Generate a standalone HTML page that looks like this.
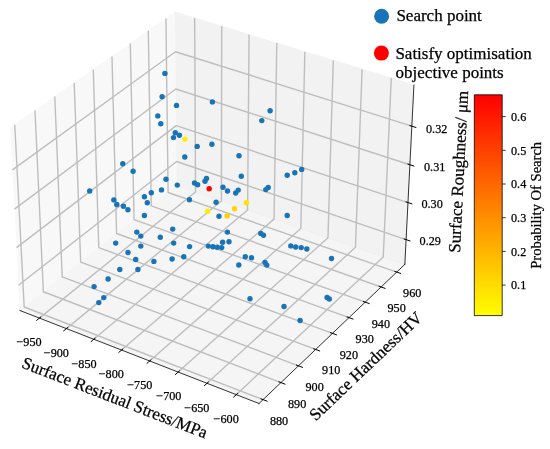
<!DOCTYPE html>
<html><head><meta charset="utf-8"><title>3D scatter</title>
<style>html,body{margin:0;padding:0;background:#fff;overflow:hidden}svg{display:block}text{font-family:'Liberation Serif','Times New Roman',serif;fill:#000;stroke:#000;stroke-width:0.25px}</style>
</head><body>
<svg width="550" height="449" viewBox="0 0 550 449">
<rect width="550" height="449" fill="#fff"/>

 
 <defs>
  <style type="text/css">*{stroke-linejoin: round; stroke-linecap: butt}</style>
 </defs>
 <g id="figure_1">
  <g id="patch_1">
   <path d="M 0 449 
L 550 449 
L 550 0 
L 0 0 
L 0 449 
z
" style="fill: none; opacity: 0"/>
  </g>
  <g id="patch_2">
   <path d="M -1 426.093762 
L 430.484135 426.093762 
L 430.484135 -1 
" style="fill: none; opacity: 0"/>
  </g>
  <g id="pane3d_1">
   <g id="patch_3">
    <path d="M 19.835938 310.484991 
L 176.832569 185.533062 
L 175.092431 12.017066 
L 10.180579 127.894196 
" style="fill: #f2f2f2; opacity: 0.5; stroke: #f2f2f2; stroke-linejoin: miter"/>
   </g>
  </g>
  <g id="pane3d_2">
   <g id="patch_4">
    <path d="M 176.832569 185.533062 
L 404.837782 264.374308 
L 413.937392 85.029403 
L 175.092431 12.017066 
" style="fill: #e6e6e6; opacity: 0.5; stroke: #e6e6e6; stroke-linejoin: miter"/>
   </g>
  </g>
  <g id="pane3d_3">
   <g id="patch_5">
    <path d="M 19.835938 310.484991 
L 259.005629 403.499016 
L 404.837782 264.374308 
L 176.832569 185.533062 
" style="fill: #ececec; opacity: 0.5; stroke: #ececec; stroke-linejoin: miter"/>
   </g>
  </g>
  <g id="grid3d_1">
   <g id="Line3DCollection_1">
    <path d="M 39.385509 318.087895 
L 195.545633 192.003797 
L 194.651916 17.996191 
" style="fill: none; stroke: #bebebe; stroke-width: 1.4"/>
    <path d="M 66.419038 328.60134 
L 221.400034 200.943913 
L 221.688446 26.260967 
" style="fill: none; stroke: #bebebe; stroke-width: 1.4"/>
    <path d="M 93.804802 339.25177 
L 247.564842 209.991365 
L 249.064581 34.629557 
" style="fill: none; stroke: #bebebe; stroke-width: 1.4"/>
    <path d="M 121.549729 350.041881 
L 274.045682 219.148096 
L 276.78676 43.103929 
" style="fill: none; stroke: #bebebe; stroke-width: 1.4"/>
    <path d="M 149.660933 360.974437 
L 300.848315 228.416099 
L 304.861588 51.686103 
" style="fill: none; stroke: #bebebe; stroke-width: 1.4"/>
    <path d="M 178.145714 372.05228 
L 327.978641 237.797414 
L 333.295836 60.378146 
" style="fill: none; stroke: #bebebe; stroke-width: 1.4"/>
    <path d="M 207.01157 383.278324 
L 355.442708 247.294132 
L 362.09645 69.182184 
" style="fill: none; stroke: #bebebe; stroke-width: 1.4"/>
    <path d="M 236.266198 394.655562 
L 383.246711 256.908396 
L 391.270557 78.100395 
" style="fill: none; stroke: #bebebe; stroke-width: 1.4"/>
   </g>
  </g>
  <g id="grid3d_2">
   <g id="Line3DCollection_2">
    <path d="M 14.763161 124.674195 
L 24.182423 307.02567 
L 263.060476 399.630668 
" style="fill: none; stroke: #bebebe; stroke-width: 1.4"/>
    <path d="M 34.974426 110.472526 
L 43.363374 291.759757 
L 280.942522 382.571094 
" style="fill: none; stroke: #bebebe; stroke-width: 1.4"/>
    <path d="M 54.788437 96.549993 
L 62.184713 276.780056 
L 298.470445 365.849356 
" style="fill: none; stroke: #bebebe; stroke-width: 1.4"/>
    <path d="M 74.216792 82.898445 
L 80.656459 262.078593 
L 315.654659 349.455517 
" style="fill: none; stroke: #bebebe; stroke-width: 1.4"/>
    <path d="M 93.270641 69.510048 
L 98.788263 247.647685 
L 332.505178 333.380026 
" style="fill: none; stroke: #bebebe; stroke-width: 1.4"/>
    <path d="M 111.96071 56.377265 
L 116.589423 233.479934 
L 349.031627 317.613699 
" style="fill: none; stroke: #bebebe; stroke-width: 1.4"/>
    <path d="M 130.297319 43.492845 
L 134.068901 219.568205 
L 365.243267 302.147702 
" style="fill: none; stroke: #bebebe; stroke-width: 1.4"/>
    <path d="M 148.290399 30.849809 
L 151.23534 205.905621 
L 381.149007 286.973535 
" style="fill: none; stroke: #bebebe; stroke-width: 1.4"/>
    <path d="M 165.949517 18.441435 
L 168.097074 192.485548 
L 396.757424 272.083016 
" style="fill: none; stroke: #bebebe; stroke-width: 1.4"/>
   </g>
  </g>
  <g id="grid3d_3">
   <g id="Line3DCollection_3">
    <path d="M 406.094434 239.606856 
L 176.591758 161.520868 
L 18.504156 285.299893 
" style="fill: none; stroke: #bebebe; stroke-width: 1.4"/>
    <path d="M 407.974998 202.542681 
L 176.231687 125.616732 
L 16.510193 247.592411 
" style="fill: none; stroke: #bebebe; stroke-width: 1.4"/>
    <path d="M 409.892967 164.741284 
L 175.864822 89.035202 
L 14.475373 209.112286 
" style="fill: none; stroke: #bebebe; stroke-width: 1.4"/>
    <path d="M 411.849468 126.180446 
L 175.490969 51.756925 
L 12.398427 169.835524 
" style="fill: none; stroke: #bebebe; stroke-width: 1.4"/>
   </g>
  </g>
  <g id="axis3d_1">
   <g id="line2d_1">
    <path d="M 19.835938 310.484991 
L 259.005629 403.499016 
" style="fill: none; stroke: #000000; stroke-width: 0.8; stroke-linecap: square"/>
   </g>
   <g id="xtick_1">
    <g id="line2d_2">
     <path d="M 40.739013 316.995072 
L 36.673025 320.277961 
" style="fill: none; stroke: #000000; stroke-linecap: square"/>
    </g>
   </g>
   <g id="xtick_2">
    <g id="line2d_3">
     <path d="M 67.762992 327.494329 
L 63.725659 330.819868 
" style="fill: none; stroke: #000000; stroke-linecap: square"/>
    </g>
   </g>
   <g id="xtick_3">
    <g id="line2d_4">
     <path d="M 95.13884 338.130293 
L 91.131259 341.499319 
" style="fill: none; stroke: #000000; stroke-linecap: square"/>
    </g>
   </g>
   <g id="xtick_4">
    <g id="line2d_5">
     <path d="M 122.873476 348.905652 
L 118.896777 352.319023 
" style="fill: none; stroke: #000000; stroke-linecap: square"/>
    </g>
   </g>
   <g id="xtick_5">
    <g id="line2d_6">
     <path d="M 150.973999 359.823165 
L 147.029349 363.281762 
" style="fill: none; stroke: #000000; stroke-linecap: square"/>
    </g>
   </g>
   <g id="xtick_6">
    <g id="line2d_7">
     <path d="M 179.447698 370.885662 
L 175.536305 374.390391 
" style="fill: none; stroke: #000000; stroke-linecap: square"/>
    </g>
   </g>
   <g id="xtick_7">
    <g id="line2d_8">
     <path d="M 208.302057 382.096052 
L 204.425165 385.647841 
" style="fill: none; stroke: #000000; stroke-linecap: square"/>
    </g>
   </g>
   <g id="xtick_8">
    <g id="line2d_9">
     <path d="M 237.54476 393.45732 
L 233.703658 397.057123 
" style="fill: none; stroke: #000000; stroke-linecap: square"/>
    </g>
   </g>
  </g>
  <g id="axis3d_2">
   <g id="line2d_10">
    <path d="M 404.837782 264.374308 
L 259.005629 403.499016 
" style="fill: none; stroke: #000000; stroke-width: 0.8; stroke-linecap: square"/>
   </g>
   <g id="xtick_9">
    <g id="line2d_11">
     <path d="M 261.040681 398.847661 
L 267.105638 401.198841 
" style="fill: none; stroke: #000000; stroke-linecap: square"/>
    </g>
   </g>
   <g id="xtick_10">
    <g id="line2d_12">
     <path d="M 278.934791 381.803666 
L 284.963468 384.108044 
" style="fill: none; stroke: #000000; stroke-linecap: square"/>
    </g>
   </g>
   <g id="xtick_11">
    <g id="line2d_13">
     <path d="M 296.474697 365.097047 
L 302.467334 367.356007 
" style="fill: none; stroke: #000000; stroke-linecap: square"/>
    </g>
   </g>
   <g id="xtick_12">
    <g id="line2d_14">
     <path d="M 313.670815 348.717885 
L 319.627658 350.932755 
" style="fill: none; stroke: #000000; stroke-linecap: square"/>
    </g>
   </g>
   <g id="xtick_13">
    <g id="line2d_15">
     <path d="M 330.533153 332.656645 
L 336.454456 334.828705 
" style="fill: none; stroke: #000000; stroke-linecap: square"/>
    </g>
   </g>
   <g id="xtick_14">
    <g id="line2d_16">
     <path d="M 347.071335 316.90416 
L 352.957357 319.034639 
" style="fill: none; stroke: #000000; stroke-linecap: square"/>
    </g>
   </g>
   <g id="xtick_15">
    <g id="line2d_17">
     <path d="M 363.294621 301.451612 
L 369.145625 303.541692 
" style="fill: none; stroke: #000000; stroke-linecap: square"/>
    </g>
   </g>
   <g id="xtick_16">
    <g id="line2d_18">
     <path d="M 379.211919 286.290515 
L 385.028172 288.341335 
" style="fill: none; stroke: #000000; stroke-linecap: square"/>
    </g>
   </g>
   <g id="xtick_17">
    <g id="line2d_19">
     <path d="M 394.831804 271.412701 
L 400.613577 273.425356 
" style="fill: none; stroke: #000000; stroke-linecap: square"/>
    </g>
   </g>
  </g>
  <g id="axis3d_3">
   <g id="line2d_20">
    <path d="M 404.837782 264.374308 
L 413.937392 85.029403 
" style="fill: none; stroke: #000000; stroke-width: 0.8; stroke-linecap: square"/>
   </g>
   <g id="xtick_18">
    <g id="line2d_21">
     <path d="M 404.161556 238.949213 
L 409.965131 240.923822 
" style="fill: none; stroke: #000000; stroke-linecap: square"/>
    </g>
   </g>
   <g id="xtick_19">
    <g id="line2d_22">
     <path d="M 406.022286 201.894489 
L 411.885461 203.840739 
" style="fill: none; stroke: #000000; stroke-linecap: square"/>
    </g>
   </g>
   <g id="xtick_20">
    <g id="line2d_23">
     <path d="M 407.920011 164.103049 
L 413.844021 166.019415 
" style="fill: none; stroke: #000000; stroke-linecap: square"/>
    </g>
   </g>
   <g id="xtick_21">
    <g id="line2d_24">
     <path d="M 409.855845 125.552703 
L 415.841963 127.437585 
" style="fill: none; stroke: #000000; stroke-linecap: square"/>
    </g>
   </g>
  </g>
  <g id="axes_1"/>
 </g>

<g><circle cx="164.9" cy="73.4" r="2.7" fill="#1874b6"/><circle cx="162.1" cy="96.7" r="2.7" fill="#1874b6"/><circle cx="176.5" cy="105.4" r="2.7" fill="#1874b6"/><circle cx="157.8" cy="115.9" r="2.7" fill="#1874b6"/><circle cx="160.8" cy="123.7" r="2.7" fill="#1874b6"/><circle cx="175.3" cy="132.8" r="2.7" fill="#1874b6"/><circle cx="179.4" cy="135.3" r="2.7" fill="#1874b6"/><circle cx="173.5" cy="137.6" r="2.7" fill="#1874b6"/><circle cx="212.4" cy="101.9" r="2.7" fill="#1874b6"/><circle cx="197.2" cy="146.4" r="2.7" fill="#1874b6"/><circle cx="211.9" cy="144.2" r="2.7" fill="#1874b6"/><circle cx="184.8" cy="157.0" r="2.7" fill="#1874b6"/><circle cx="239.0" cy="155.8" r="2.7" fill="#1874b6"/><circle cx="270.1" cy="110.8" r="2.7" fill="#1874b6"/><circle cx="261.8" cy="120.6" r="2.7" fill="#1874b6"/><circle cx="122.8" cy="163.8" r="2.7" fill="#1874b6"/><circle cx="133.1" cy="171.2" r="2.7" fill="#1874b6"/><circle cx="166.0" cy="179.2" r="2.7" fill="#1874b6"/><circle cx="177.3" cy="185.1" r="2.7" fill="#1874b6"/><circle cx="89.7" cy="191.0" r="2.7" fill="#1874b6"/><circle cx="161.5" cy="189.9" r="2.7" fill="#1874b6"/><circle cx="151.3" cy="192.8" r="2.7" fill="#1874b6"/><circle cx="144.4" cy="196.8" r="2.7" fill="#1874b6"/><circle cx="113.8" cy="199.9" r="2.7" fill="#1874b6"/><circle cx="147.3" cy="202.8" r="2.7" fill="#1874b6"/><circle cx="116.8" cy="204.5" r="2.7" fill="#1874b6"/><circle cx="123.4" cy="206.2" r="2.7" fill="#1874b6"/><circle cx="127.9" cy="209.7" r="2.7" fill="#1874b6"/><circle cx="144.4" cy="215.5" r="2.7" fill="#1874b6"/><circle cx="172.7" cy="229.1" r="2.7" fill="#1874b6"/><circle cx="136.8" cy="232.1" r="2.7" fill="#1874b6"/><circle cx="140.8" cy="236.1" r="2.7" fill="#1874b6"/><circle cx="160.3" cy="237.3" r="2.7" fill="#1874b6"/><circle cx="115.7" cy="243.1" r="2.7" fill="#1874b6"/><circle cx="173.7" cy="243.1" r="2.7" fill="#1874b6"/><circle cx="140.8" cy="246.1" r="2.7" fill="#1874b6"/><circle cx="241.3" cy="176.3" r="2.7" fill="#1874b6"/><circle cx="206.5" cy="178.5" r="2.7" fill="#1874b6"/><circle cx="205.0" cy="181.2" r="2.7" fill="#1874b6"/><circle cx="194.5" cy="183.0" r="2.7" fill="#1874b6"/><circle cx="197.6" cy="184.7" r="2.7" fill="#1874b6"/><circle cx="223.0" cy="187.2" r="2.7" fill="#1874b6"/><circle cx="227.5" cy="191.0" r="2.7" fill="#1874b6"/><circle cx="238.2" cy="190.1" r="2.7" fill="#1874b6"/><circle cx="235.7" cy="193.0" r="2.7" fill="#1874b6"/><circle cx="268.2" cy="187.4" r="2.7" fill="#1874b6"/><circle cx="265.8" cy="189.6" r="2.7" fill="#1874b6"/><circle cx="189.4" cy="199.7" r="2.7" fill="#1874b6"/><circle cx="216.1" cy="202.2" r="2.7" fill="#1874b6"/><circle cx="219.0" cy="216.2" r="2.7" fill="#1874b6"/><circle cx="227.4" cy="232.1" r="2.7" fill="#1874b6"/><circle cx="260.8" cy="233.4" r="2.7" fill="#1874b6"/><circle cx="263.5" cy="235.3" r="2.7" fill="#1874b6"/><circle cx="189.6" cy="246.6" r="2.7" fill="#1874b6"/><circle cx="229.0" cy="241.8" r="2.7" fill="#1874b6"/><circle cx="222.6" cy="242.2" r="2.7" fill="#1874b6"/><circle cx="208.3" cy="246.1" r="2.7" fill="#1874b6"/><circle cx="212.9" cy="246.8" r="2.7" fill="#1874b6"/><circle cx="217.3" cy="247.2" r="2.7" fill="#1874b6"/><circle cx="221.7" cy="247.6" r="2.7" fill="#1874b6"/><circle cx="301.7" cy="169.4" r="2.7" fill="#1874b6"/><circle cx="294.8" cy="172.7" r="2.7" fill="#1874b6"/><circle cx="287.2" cy="175.2" r="2.7" fill="#1874b6"/><circle cx="287.2" cy="215.5" r="2.7" fill="#1874b6"/><circle cx="290.8" cy="245.9" r="2.7" fill="#1874b6"/><circle cx="295.7" cy="247.0" r="2.7" fill="#1874b6"/><circle cx="301.2" cy="247.6" r="2.7" fill="#1874b6"/><circle cx="306.8" cy="249.0" r="2.7" fill="#1874b6"/><circle cx="128.0" cy="252.5" r="2.7" fill="#1874b6"/><circle cx="135.7" cy="259.5" r="2.7" fill="#1874b6"/><circle cx="153.9" cy="261.4" r="2.7" fill="#1874b6"/><circle cx="172.1" cy="259.0" r="2.7" fill="#1874b6"/><circle cx="119.8" cy="269.5" r="2.7" fill="#1874b6"/><circle cx="137.9" cy="269.5" r="2.7" fill="#1874b6"/><circle cx="108.1" cy="279.0" r="2.7" fill="#1874b6"/><circle cx="94.1" cy="286.6" r="2.7" fill="#1874b6"/><circle cx="103.8" cy="297.6" r="2.7" fill="#1874b6"/><circle cx="98.8" cy="302.6" r="2.7" fill="#1874b6"/><circle cx="183.8" cy="256.7" r="2.7" fill="#1874b6"/><circle cx="245.3" cy="256.7" r="2.7" fill="#1874b6"/><circle cx="251.5" cy="257.8" r="2.7" fill="#1874b6"/><circle cx="238.8" cy="265.0" r="2.7" fill="#1874b6"/><circle cx="265.0" cy="262.5" r="2.7" fill="#1874b6"/><circle cx="266.8" cy="265.1" r="2.7" fill="#1874b6"/><circle cx="250.0" cy="298.8" r="2.7" fill="#1874b6"/><circle cx="331.5" cy="258.5" r="2.7" fill="#1874b6"/><circle cx="327.1" cy="297.5" r="2.7" fill="#1874b6"/><circle cx="329.3" cy="299.0" r="2.7" fill="#1874b6"/><circle cx="284.0" cy="306.5" r="2.7" fill="#1874b6"/><circle cx="300.1" cy="320.5" r="2.7" fill="#1874b6"/><circle cx="185.0" cy="139.1" r="2.7" fill="#ffee00"/><circle cx="246.3" cy="202.7" r="2.7" fill="#ffe400"/><circle cx="234.5" cy="208.7" r="2.7" fill="#ffd400"/><circle cx="207.6" cy="211.3" r="2.7" fill="#ffee00"/><circle cx="227.1" cy="216.0" r="2.7" fill="#ffd200"/><circle cx="209.2" cy="188.8" r="2.7" fill="#ff0000"/></g>
<g><text x="16.5" y="345.7" style="font-size:12.2px" >−950</text><text x="43.8" y="356.8" style="font-size:12.2px" >−900</text><text x="71.5" y="367.5" style="font-size:12.2px" >−850</text><text x="98.7" y="378.3" style="font-size:12.2px" >−800</text><text x="127.2" y="389.1" style="font-size:12.2px" >−750</text><text x="156.3" y="399.9" style="font-size:12.2px" >−700</text><text x="184.3" y="411.5" style="font-size:12.2px" >−650</text><text x="213.6" y="423.0" style="font-size:12.2px" >−600</text><text x="269.9" y="425.1" style="font-size:12.2px" >880</text><text x="288.0" y="407.8" style="font-size:12.2px" >890</text><text x="305.5" y="390.8" style="font-size:12.2px" >900</text><text x="322.1" y="374.1" style="font-size:12.2px" >910</text><text x="339.7" y="358.6" style="font-size:12.2px" >920</text><text x="355.6" y="343.2" style="font-size:12.2px" >930</text><text x="371.7" y="327.5" style="font-size:12.2px" >940</text><text x="387.5" y="312.1" style="font-size:12.2px" >950</text><text x="403.1" y="296.7" style="font-size:12.2px" >960</text><text x="426.0" y="132.7" style="font-size:12.2px" >0.32</text><text x="424.0" y="170.8" style="font-size:12.2px" >0.31</text><text x="421.4" y="208.3" style="font-size:12.2px" >0.30</text><text x="419.6" y="245.0" style="font-size:12.2px" >0.29</text><text x="0" y="0" text-anchor="middle" transform="translate(112.8,402.9) rotate(21.20)" style="font-size:17px">Surface Residual Stress/MPa</text><text x="0" y="0" text-anchor="middle" transform="translate(369.5,370.3) rotate(-43.60)" style="font-size:17px">Surface Hardness/HV</text><text x="0" y="0" text-anchor="middle" transform="translate(464.0,172.0) rotate(-87.10)" style="font-size:17px">Surface Roughness/ μm</text></g>
<g><circle cx="381.6" cy="16.3" r="7.5" fill="#1874b6"/><circle cx="381.4" cy="53.1" r="7.5" fill="#ff0000"/><text x="396.4" y="20.6" style="font-size:17px">Search point</text><text x="395.4" y="58.6" style="font-size:17px">Satisfy optimisation</text><text x="395.6" y="78.0" style="font-size:17px">objective points</text></g>
<g><defs><linearGradient id="cbg" x1="0" y1="1" x2="0" y2="0"><stop offset="0" stop-color="#ffff00"/><stop offset="1" stop-color="#ff0000"/></linearGradient></defs><rect x="474.3" y="94.8" width="27.9" height="220.8" fill="url(#cbg)" stroke="#000" stroke-width="0.8"/><line x1="502.2" y1="116.6" x2="505.7" y2="116.6" stroke="#000" stroke-width="0.8"/><text x="511.0" y="120.9" style="font-size:12.2px">0.6</text><line x1="502.2" y1="150.3" x2="505.7" y2="150.3" stroke="#000" stroke-width="0.8"/><text x="511.0" y="154.6" style="font-size:12.2px">0.5</text><line x1="502.2" y1="184.0" x2="505.7" y2="184.0" stroke="#000" stroke-width="0.8"/><text x="511.0" y="188.3" style="font-size:12.2px">0.4</text><line x1="502.2" y1="217.7" x2="505.7" y2="217.7" stroke="#000" stroke-width="0.8"/><text x="511.0" y="222.0" style="font-size:12.2px">0.3</text><line x1="502.2" y1="251.4" x2="505.7" y2="251.4" stroke="#000" stroke-width="0.8"/><text x="511.0" y="255.7" style="font-size:12.2px">0.2</text><line x1="502.2" y1="285.1" x2="505.7" y2="285.1" stroke="#000" stroke-width="0.8"/><text x="511.0" y="289.4" style="font-size:12.2px">0.1</text><text x="0" y="0" text-anchor="middle" transform="translate(541.3,205.3) rotate(-90)" style="font-size:14.55px">Probability Of Search</text></g>
</svg>
</body></html>
